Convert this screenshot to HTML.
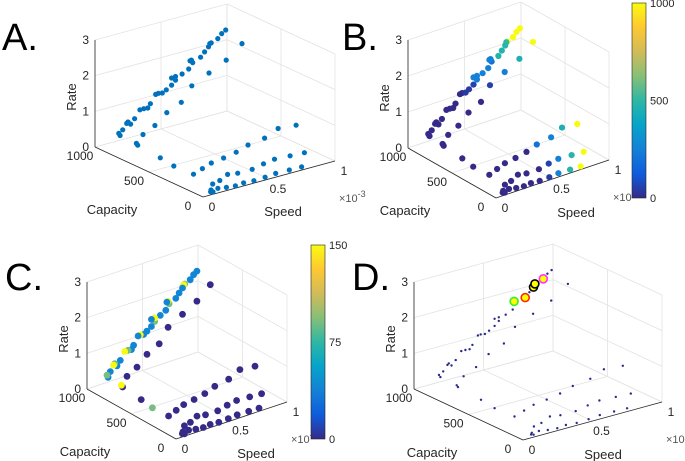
<!DOCTYPE html>
<html><head><meta charset="utf-8"><style>
html,body{margin:0;padding:0;background:#fff;}
svg{display:block;font-family:"Liberation Sans",sans-serif;}
</style></head><body>
<svg id="fig" width="685" height="461" viewBox="0 0 685 461" xmlns="http://www.w3.org/2000/svg">
<defs>
<linearGradient id="parula" x1="0" y1="1" x2="0" y2="0">
<stop offset="0" stop-color="#352a87"/><stop offset="0.125" stop-color="#0f5cdd"/><stop offset="0.25" stop-color="#1481d6"/><stop offset="0.375" stop-color="#06a4ca"/><stop offset="0.5" stop-color="#2eb7a4"/><stop offset="0.625" stop-color="#87bf77"/><stop offset="0.75" stop-color="#d1bb59"/><stop offset="0.875" stop-color="#fec832"/><stop offset="1" stop-color="#f9fb0e"/>
</linearGradient>
</defs>
</svg>
<script>
// ---- data (capacity, speed in 1e-3 units, rate) ----
const capacity = [1000,1000,1000,1000,1000,1000,1000,1000,1000,1000,1000,1000,1000,1000,1000,1000,1000,1000,1000,1000,1000,1000,1000,1000,1000,1000,1000,1000,1000,1000,1000,1000,
 800,800,800,800,800,800,800,800,800,800,
 640,490,320,360,400,420,450,500,530,380,360,
 130,150,200,180,180,210,230,220,210,
 60,58,40,30,40,30,36,48,44,40,40,30];
const speed = [0.18,0.19,0.21,0.24,0.25,0.27,0.30,0.34,0.37,0.40,0.42,0.46,0.48,0.51,0.54,0.58,0.58,0.61,0.61,0.66,0.71,0.72,0.73,0.74,0.80,0.83,0.86,0.87,0.88,0.93,0.96,0.99,
 0.15,0.16,0.20,0.29,0.38,0.49,0.57,0.70,0.83,0.95,
 0.20,0.18,0.19,0.29,0.39,0.50,0.62,0.75,0.90,0.88,1.00,
 0.18,0.25,0.35,0.41,0.52,0.63,0.73,0.84,0.94,
 0.11,0.16,0.21,0.27,0.34,0.41,0.50,0.59,0.69,0.78,0.09,0.10];
const rate = [0.20,0.13,0.27,0.42,0.45,0.37,0.49,0.70,0.70,0.69,0.79,1.01,1.02,1.00,1.06,1.15,1.35,1.36,1.26,1.38,1.47,1.69,1.70,1.62,1.71,1.83,1.94,2.02,2.03,2.10,2.21,2.28,
 0.23,0.17,0.43,0.59,0.86,1.04,1.42,1.65,1.88,2.22,
 0,0,0,0,0,0,0,0,0,0.5,0.5,
 0,0,0,0,0,0,0,0,0,
 0,0,0,0,0,0,0,0,0,0,0,0];
const colorB = [0,0,0,0,0,0,0,0,0,0,0,0,40,40,40,60,250,250,250,250,250,250,250,200,470,470,480,500,1000,1000,1000,1000,
 0,0,0,0,0,0,60,250,450,1000,
 0,0,0,0,0,0,0,200,250,450,1000,
 0,0,0,0,0,60,250,480,1000,
 0,0,0,0,0,0,40,250,480,1000,0,0];
const colorC = [90,40,40,150,90,40,40,150,90,40,40,40,150,40,40,40,40,150,90,40,40,40,150,90,40,40,40,150,90,40,40,40,
 150,0,0,0,0,0,0,0,0,0,
 0,90,0,0,0,0,0,0,0,0,0,
 0,0,0,0,0,0,0,0,0,
 0,0,0,0,0,0,0,0,0,0,0,0];
const highlightIdx = [21,24,26,27,29];
const highlightEdge = ["#33ee33","#ff2a00","#000000","#000000","#ff33ff"];
const rateTicks = [0,1,2,3];
const capTicks = [0,500,1000];
const speedTicks = [0,0.5,1];
const speedTickLabels = ["0","0.5","1"];

const svg = document.getElementById('fig');
const NS = 'http://www.w3.org/2000/svg';
function mk(tag, attrs, parent){
  const e = document.createElementNS(NS, tag);
  for (const k in attrs) e.setAttribute(k, attrs[k]);
  (parent||svg).appendChild(e); return e;
}
const stops = [[0,[53,42,135]],[0.125,[15,92,221]],[0.25,[20,129,214]],[0.375,[6,164,202]],[0.5,[46,183,164]],[0.625,[135,191,119]],[0.75,[209,187,89]],[0.875,[254,200,50]],[1,[249,251,14]]];
function parula(t){
  t=Math.max(0,Math.min(1,t));
  for(let i=1;i<stops.length;i++){ if(t<=stops[i][0]){const a=stops[i-1],b=stops[i];const f=(t-a[0])/(b[0]-a[0]);
    const c=a[1].map((v,j)=>Math.round(v+(b[1][j]-v)*f));return `rgb(${c[0]},${c[1]},${c[2]})`;} }
  return 'rgb(249,251,14)';
}
const panels = [
 {id:'a', L:[95,147], F:[203,197], R:[335,161], H:107, r:2.6, mode:'solid', letter:'A.', lx:2, ly:50},
 {id:'b', L:[408,148], F:[496,198], R:[609,160], H:108, r:3.1, mode:'b', letter:'B.', lx:342, ly:50, cb:{x:632,y:3,w:14,h:195,labels:['1000','500','0']}},
 {id:'c', L:[87,389], F:[176,439], R:[287,402], H:107, r:3.4, mode:'c', letter:'C.', lx:5, ly:290, cb:{x:311,y:245,w:14,h:194,labels:['150','75','0']}},
 {id:'d', L:[414,389], F:[523,440], R:[662,402], H:107, r:1.2, mode:'d', letter:'D.', lx:352, ly:290}
];
panels.forEach(p=>{
  const g = mk('g',{});
  
  
  const P=(c,s,r)=>[p.F[0]+c/1000*(p.L[0]-p.F[0])+s*(p.R[0]-p.F[0]), p.F[1]+c/1000*(p.L[1]-p.F[1])+s*(p.R[1]-p.F[1])-r/3*p.H];
  const line=(a,b,col,w,name)=>{const l=mk('line',{x1:a[0],y1:a[1],x2:b[0],y2:b[1],stroke:col,'stroke-width':w},g);
     };
  const grid='#e3e3e3';
  // walls: cap=1000 plane and speed=1 plane, floor
  rateTicks.forEach(rv=>{ line(P(1000,0,rv),P(1000,1,rv),grid,0.8,'grid-line'); line(P(1000,1,rv),P(0,1,rv),grid,0.8,'grid-line'); });
  speedTicks.forEach(sv=>{ line(P(1000,sv,0),P(1000,sv,3),grid,0.8,'grid-line'); line(P(0,sv,0),P(1000,sv,0),grid,0.8,'grid-line'); });
  capTicks.forEach(cv=>{ line(P(cv,1,0),P(cv,1,3),grid,0.8,'grid-line'); line(P(cv,0,0),P(cv,1,0),grid,0.8,'grid-line'); });
  // axes
  line(P(1000,0,0),P(1000,0,3),'#262626',0.8,'rate-axis');
  line(P(1000,0,0),P(0,0,0),'#262626',0.8,'capacity-axis');
  line(P(0,0,0),P(0,1,0),'#262626',0.8,'speed-axis');
  // points
  for(let i=capacity.length-1;i>=0;i--){
    const q=P(capacity[i],speed[i],rate[i]);
    let fill='#0072bd';
    if(p.mode==='b') fill=parula(colorB[i]/1000);
    if(p.mode==='c') fill=parula(colorC[i]/150);
    if(p.mode==='d') fill='#2b2a8c';
    const c=mk('circle',{cx:q[0].toFixed(1),cy:q[1].toFixed(1),r:p.r,fill:fill},g);
    
    
  }
  if(p.mode==='d'){
    highlightIdx.forEach((k,j)=>{
      const q=P(capacity[k],speed[k],rate[k]);
      const c=mk('circle',{cx:q[0].toFixed(1),cy:q[1].toFixed(1),r:4,fill:'#ffff00',stroke:highlightEdge[j],'stroke-width':1.6},g);
      
      
    });
  }
  const txt=(x,y,s,anchor,size,name,extra)=>{const t=mk('text',Object.assign({x:x,y:y,'text-anchor':anchor,'font-size':size,fill:'#262626'},extra||{}),g);
    t.textContent=s;   return t;};
  rateTicks.forEach(rv=>{const q=P(1000,0,rv); txt(q[0]-6,q[1]+4,String(rv),'end',12,'rate-tick-label');});
  capTicks.forEach(cv=>{const q=P(cv,0,0); txt(q[0]-15,q[1]+13,String(cv),'middle',12,'capacity-tick-label');});
  speedTicks.forEach((sv,j)=>{const q=P(0,sv,0); txt(q[0]+9,q[1]+14,speedTickLabels[j],'middle',12,'speed-tick-label');});
  const rt=txt(p.L[0]-19,p.L[1]-50,'Rate','middle',13,'rate-axis-title',{transform:`rotate(-90 ${p.L[0]-19} ${p.L[1]-50})`});
  txt(p.F[0]-91,p.F[1]+17,'Capacity','middle',13,'capacity-axis-title');
  txt(p.F[0]+80,p.F[1]+19,'Speed','middle',13,'speed-axis-title');
  const ex=txt(p.R[0]+4,p.R[1]+41,'×10','start',11,'speed-exponent-label',{fill:'#555'});
  const sup=mk('tspan',{dy:-5,'font-size':9},ex); sup.textContent='-3';
  txt(p.lx,p.ly,p.letter,'start',38,'panel-letter',{fill:'#000'});
  if(p.cb){
    const cb=p.cb;
    const r=mk('rect',{x:cb.x,y:cb.y,width:cb.w,height:cb.h,fill:'url(#parula)',stroke:'#262626','stroke-width':0.6},g);
     
    const mk2=mk('rect',{x:cb.x+cb.w+0.5,y:cb.y+20,width:14,height:cb.h+2,fill:'#fff'},g);
     
    cb.labels.forEach((s,j)=>txt(cb.x+cb.w+4,cb.y+cb.h*j/2+4,s,'start',11,'colorbar-tick-label'));
  }
});
</script>
</body></html>
